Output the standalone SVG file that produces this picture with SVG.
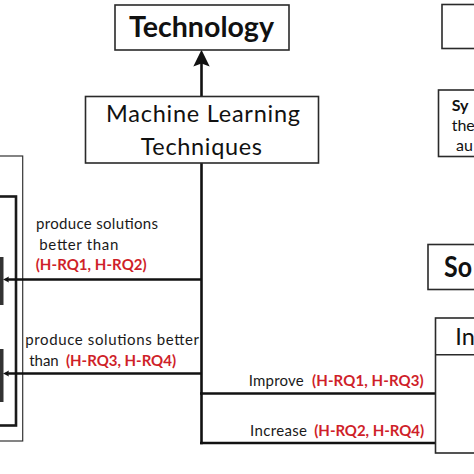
<svg xmlns="http://www.w3.org/2000/svg" width="474" height="474" viewBox="0 0 474 474">
<defs>
<style>
.box{fill:#fff;stroke:#2a2a2a;stroke-width:1.6}
.thick{fill:none;stroke:#1a1a1a;stroke-width:2.6}
.thin{fill:none;stroke:#333;stroke-width:1.2}
.line{fill:none;stroke:#111;stroke-width:2.6}
.lbl{font-family:Lato,"Open Sans","Liberation Sans",sans-serif;font-size:15px;fill:#1a1a1a}
.red{font-family:Lato,"Open Sans","Liberation Sans",sans-serif;font-size:15px;font-weight:bold;fill:#cf1f2a}
.title{font-family:Lato,"Open Sans","Liberation Sans",sans-serif;font-size:28px;font-weight:bold;fill:#111}
.node{font-family:Lato,"Open Sans","Liberation Sans",sans-serif;font-size:23.5px;fill:#111}
.small{font-family:Lato,"Open Sans","Liberation Sans",sans-serif;font-size:16px;fill:#111}
</style>
<marker id="bigArrow" markerUnits="userSpaceOnUse" viewBox="0 0 17 17" markerWidth="17" markerHeight="17" refX="4.5" refY="8.5" orient="auto">
<path d="M0,0.3 L16.7,8.5 L0,16.7 L3,8.5 z" fill="#111"/>
</marker>
<marker id="smallArrow" markerUnits="userSpaceOnUse" viewBox="0 0 7 7" markerWidth="7" markerHeight="7" refX="3" refY="3.5" orient="auto">
<path d="M0,0.5 L6,3.5 L0,6.5 L1,3.5 z" fill="#111"/>
</marker>
</defs>
<rect width="474" height="474" fill="#fff"/>

<g id="left-panel">
<rect class="thin" x="-10" y="156" width="32.7" height="285"/>
<rect class="thick" x="-10" y="196.5" width="26" height="229"/>
<rect x="-2" y="257" width="5.5" height="48" fill="#333"/>
<rect x="-2" y="349" width="5.5" height="53" fill="#333"/>
</g>

<g id="connectors">
<line class="line" x1="201.5" y1="96.5" x2="201.5" y2="62" stroke-width="3" marker-end="url(#bigArrow)"/>
<line class="line" x1="201.5" y1="163" x2="201.5" y2="444.3" stroke-width="3"/>
<line class="line" x1="201.5" y1="279.5" x2="6" y2="279.5" stroke-width="2.2" marker-end="url(#smallArrow)"/>
<line class="line" x1="201.5" y1="373.5" x2="6" y2="373.5" stroke-width="2.2" marker-end="url(#smallArrow)"/>
<line class="line" x1="200" y1="393.5" x2="474" y2="393.5"/>
<line class="line" x1="200" y1="443" x2="474" y2="443"/>
<text class="lbl" x="36" y="229.3" textLength="122" lengthAdjust="spacing">produce solutions</text>
<text class="lbl" x="39.3" y="249.5" textLength="79" lengthAdjust="spacing">better than</text>
<text class="red" x="35.7" y="269.5" textLength="111" lengthAdjust="spacing">(H-RQ1, H-RQ2)</text>
<text class="lbl" x="25.3" y="344.5" textLength="173.7" lengthAdjust="spacing">produce solutions better</text>
<text class="lbl" x="29.3" y="365.5" textLength="29.4" lengthAdjust="spacing">than</text>
<text class="red" x="66" y="365.5" textLength="110" lengthAdjust="spacing">(H-RQ3, H-RQ4)</text>
<text class="lbl" x="248.7" y="386" textLength="55" lengthAdjust="spacing">Improve</text>
<text class="red" x="312" y="386" textLength="111.7" lengthAdjust="spacing">(H-RQ1, H-RQ3)</text>
<text class="lbl" x="250" y="436" textLength="57" lengthAdjust="spacing">Increase</text>
<text class="red" x="314.3" y="436" textLength="109.7" lengthAdjust="spacing">(H-RQ2, H-RQ4)</text>
</g>

<g id="technology">
<rect class="box" x="115" y="5" width="174" height="45" stroke-width="2"/>
<text class="title" x="129" y="37.3" textLength="145" lengthAdjust="spacingAndGlyphs">Technology</text>
</g>

<g id="ml-techniques">
<rect class="box" x="85.5" y="96.5" width="233" height="66.5"/>
<text class="node" x="106" y="121.7" textLength="194" lengthAdjust="spacing">Machine Learning</text>
<text class="node" x="140.7" y="154.5" textLength="121.3" lengthAdjust="spacing">Techniques</text>
</g>

<g id="top-right-box">
<rect class="box" x="442" y="4.5" width="50" height="44"/>
</g>

<g id="syn-box">
<rect class="box" x="438.5" y="90" width="50" height="66.5"/>
<text class="small" x="451.7" y="111" font-weight="bold">Sy</text>
<text class="small" x="451.7" y="131">the</text>
<text class="small" x="456" y="151">au</text>
</g>

<g id="social">
<rect class="box" x="428" y="244.5" width="60" height="45" stroke-width="2"/>
<text class="title" x="444" y="276.5" textLength="28" lengthAdjust="spacingAndGlyphs">So</text>
</g>

<g id="bottom-right-box">
<rect class="box" x="435.5" y="318" width="50" height="135" fill="none"/>
<line x1="435.5" y1="354.7" x2="474" y2="354.7" stroke="#2a2a2a" stroke-width="1.6"/>
<text class="node" x="455.3" y="344.5">In</text>
</g>
</svg>
